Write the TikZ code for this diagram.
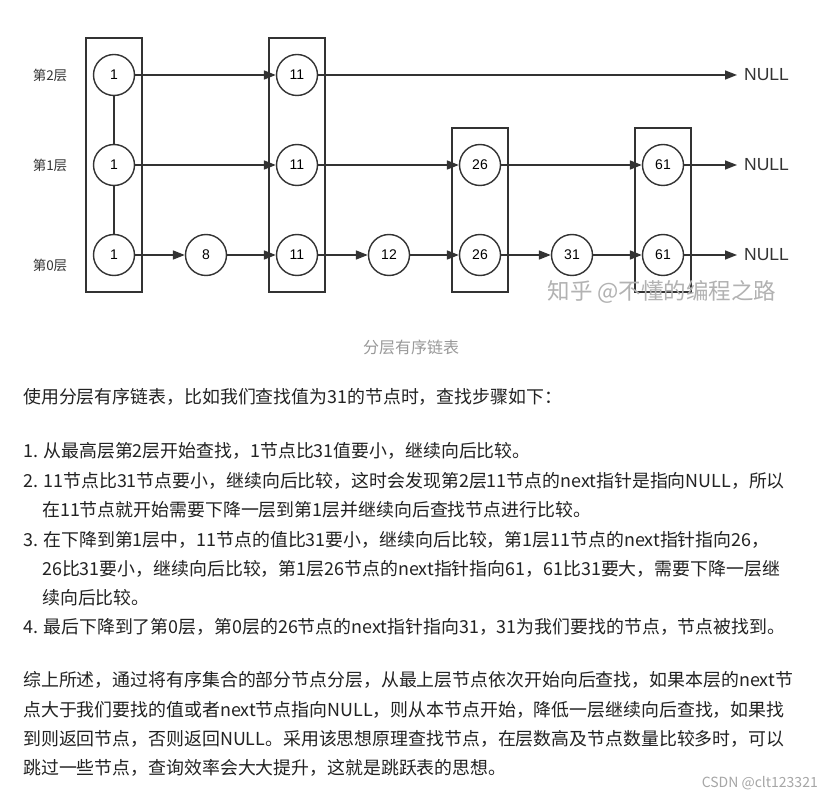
\documentclass[tikz,border=0pt]{standalone}
\usepackage{fontspec}
\setmainfont{Noto Sans CJK SC}
\newfontfamily\latf{Liberation Sans}
\usetikzlibrary{arrows.meta,positioning,fit}
\definecolor{ink}{HTML}{333333}
\definecolor{bodyc}{HTML}{222222}
\definecolor{capc}{HTML}{999999}
\tikzset{nd/.style={circle,draw=ink,line width=1.4pt,minimum size=41pt,inner sep=0pt,font=\latf\fontsize{14}{14}\selectfont},
 bx/.style={draw=ink,line width=1.6pt,inner xsep=7pt,inner ysep=16pt},
 lnk/.style={-{Triangle[length=12pt,width=9pt]},line width=1.6pt,draw=ink},
 tie/.style={line width=1.6pt,draw=ink},
 lvl/.style={font=\fontsize{13.5}{14}\selectfont,text=ink},
 nul/.style={anchor=west,inner sep=0pt,font=\latf\fontsize{17.5}{17.5}\selectfont,text=ink},
 txt/.style={anchor=base west,inner sep=0pt,font=\fontsize{17.9}{18}\selectfont,text=bodyc}}

\begin{document}
\begin{tikzpicture}[x=1pt,y=-1pt]
\useasboundingbox (0,0) rectangle (838,799);
\fill[white] (0,0) rectangle (838,799);
% level labels
\node[lvl](lab2) at(50,75){第2层};
\node[lvl](lab1) at(50,165){第1层};
\node[lvl](lab0) at(50,265){第0层};
% level 2
\node[nd](a1) at(114,75){1};
\node[nd](a11) at(297,75){11};
\node[nul](na) at(744,75){NULL};
% level 1
\node[nd](b1) at(114,165){1};
\node[nd](b11) at(297,165){11};
\node[nd](b26) at(480,165){26};
\node[nd](b61) at(663,165){61};
\node[nul](nb) at(744,165){NULL};
% level 0
\node[nd](c1) at(114,255){1};
\node[nd](c8) at(206,255){8};
\node[nd](c11) at(297,255){11};
\node[nd](c12) at(389,255){12};
\node[nd](c26) at(480,255){26};
\node[nd](c31) at(572,255){31};
\node[nd](c61) at(663,255){61};
\node[nul](nc) at(744,255){NULL};
% column boxes
\node[bx,fit=(a1)(c1)](k1){};
\node[bx,fit=(a11)(c11)](k11){};
\node[bx,fit=(b26)(c26)](k26){};
\node[bx,fit=(b61)(c61)](k61){};
\draw[tie](a1)--(b1);
\draw[tie](b1)--(c1);
\draw[lnk](a1)--(a11);
\draw[lnk](a11)--([xshift=-7pt]na.west);
\draw[lnk](b1)--(b11);
\draw[lnk](b11)--(b26);
\draw[lnk](b26)--(b61);
\draw[lnk](b61)--([xshift=-7pt]nb.west);
\draw[lnk](c1)--(c8);
\draw[lnk](c8)--(c11);
\draw[lnk](c11)--(c12);
\draw[lnk](c12)--(c26);
\draw[lnk](c26)--(c31);
\draw[lnk](c31)--(c61);
\draw[lnk](c61)--([xshift=-7pt]nc.west);
\node[font=\fontsize{22.5}{22.5}\selectfont,text=black!30](wm) at(662,292){知乎 @不懂的编程之路};
\node[font=\fontsize{16}{16}\selectfont,text=capc](cap) at(411,347){分层有序链表};
% article text
\node[txt](s0) at(23,403){使用分层有序链表，比如我们查找值为31的节点时，查找步骤如下：};
\node[txt](s1) at(23,457){1. 从最高层第2层开始查找，1节点比31值要小，继续向后比较。};
\node[txt](s2) at(23,487){2. 11节点比31节点要小，继续向后比较，这时会发现第2层11节点的next指针是指向NULL，所以};
\node[txt](s3) at(42,516){在11节点就开始需要下降一层到第1层并继续向后查找节点进行比较。};
\node[txt](s4) at(23,546){3. 在下降到第1层中，11节点的值比31要小，继续向后比较，第1层11节点的next指针指向26，};
\node[txt](s5) at(42,575){26比31要小，继续向后比较，第1层26节点的next指针指向61，61比31要大，需要下降一层继};
\node[txt](s6) at(42,604){续向后比较。};
\node[txt](s7) at(23,633){4. 最后下降到了第0层，第0层的26节点的next指针指向31，31为我们要找的节点，节点被找到。};
\node[txt](s8) at(23,686){综上所述，通过将有序集合的部分节点分层，从最上层节点依次开始向后查找，如果本层的next节};
\node[txt](s9) at(23,716){点大于我们要找的值或者next节点指向NULL，则从本节点开始，降低一层继续向后查找，如果找};
\node[txt](s10) at(23,745){到则返回节点，否则返回NULL。采用该思想原理查找节点，在层数高及节点数量比较多时，可以};
\node[txt](s11) at(23,774){跳过一些节点，查询效率会大大提升，这就是跳跃表的思想。};
\node[anchor=east,inner sep=0pt,font=\fontsize{14}{14}\selectfont,text=black!35](csdn) at(818,783){CSDN @clt123321};
\end{tikzpicture}
\end{document}
